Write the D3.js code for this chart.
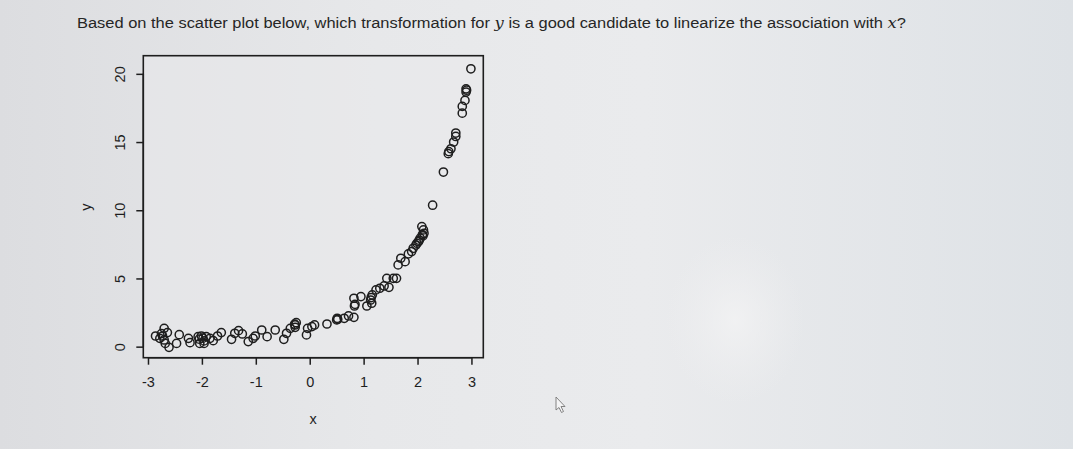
<!DOCTYPE html>
<html><head><meta charset="utf-8">
<script src="https://cdn.jsdelivr.net/npm/d3@7"></script>
<style>html,body{margin:0;padding:0;overflow:hidden;background:#e6e7e9}</style>
</head><body>
<script>
// ---- data ----
const xValues = [-2.86,-2.78,-2.70,-2.73,-2.64,-2.70,-2.68,-2.61,-2.47,-2.42,-2.25,-2.22,-2.07,-2.04,-2.01,-1.96,-1.92,-1.96,-1.85,-1.79,-1.71,-1.64,-1.45,-1.39,-1.32,-1.25,-1.14,-1.05,-1.01,-0.89,-0.79,-0.64,-0.48,-0.43,-0.36,-0.27,-0.25,-0.27,-0.06,-0.04,0.04,0.09,0.32,0.50,0.51,0.64,0.72,0.82,0.83,0.82,0.95,1.06,1.13,1.16,1.15,1.23,1.30,1.38,1.43,1.47,1.55,1.61,1.64,1.69,1.77,1.83,1.89,1.92,1.99,2.02,2.05,2.10,2.08,2.11,2.12,2.28,2.48,2.57,2.62,2.67,2.71,2.71,2.83,2.83,2.88,2.90,2.90,2.99,
  -2.75,-2.05,-1.98,-0.28,0.52,0.84,1.14,1.97,2.03,2.09,2.58,2.91];
const yValues = [0.78,0.61,1.34,0.78,1.03,0.49,0.24,-0.05,0.24,0.88,0.61,0.29,0.73,0.24,0.78,0.42,0.73,0.24,0.61,0.44,0.78,1.03,0.54,0.98,1.17,0.93,0.37,0.61,0.78,1.22,0.73,1.22,0.54,0.98,1.34,1.42,1.76,1.59,0.86,1.34,1.47,1.59,1.66,1.96,2.08,2.08,2.25,2.15,2.98,3.55,3.67,2.98,3.42,3.79,3.18,4.16,4.28,4.45,5.01,4.35,5.01,5.01,5.99,6.48,6.23,6.80,6.97,7.21,7.58,7.70,7.95,8.12,8.80,8.56,8.31,10.37,12.80,14.15,14.51,15.0,15.41,15.66,17.12,17.61,18.05,18.66,18.90,20.37,
  0.95,0.55,0.62,1.65,2.0,3.1,3.6,7.45,7.8,8.2,14.3,18.8];
const xTicks = [-3,-2,-1,0,1,2,3];
const yTicks = [0,5,10,15,20];
const titleParts = [
  {t:"Based on the scatter plot below, which transformation for ", m:false},
  {t:"y", m:true},
  {t:" is a good candidate to linearize the association with ", m:false},
  {t:"x", m:true},
  {t:"?", m:false}
];
const xLabel = "x", yLabel = "y";

// ---- drawing ----
const W = 1073, H = 449;
const svg = d3.select("body").append("svg").attr("width", W).attr("height", H);
const defs = svg.append("defs");
const g1 = defs.append("linearGradient").attr("id","bg").attr("x1","0").attr("x2","1").attr("y1","0").attr("y2","0");
g1.append("stop").attr("offset","0").attr("stop-color","#dcdde0");
g1.append("stop").attr("offset","0.35").attr("stop-color","#e7e8ea");
g1.append("stop").attr("offset","0.6").attr("stop-color","#eaebed");
g1.append("stop").attr("offset","1").attr("stop-color","#dee2e6");
svg.append("rect").attr("width",W).attr("height",H).attr("fill","url(#bg)");
const rg = defs.append("radialGradient").attr("id","glare");
rg.append("stop").attr("offset","0").attr("stop-color","#f3f3f4").attr("stop-opacity",0.8);
rg.append("stop").attr("offset","1").attr("stop-color","#efeff0").attr("stop-opacity",0);
svg.append("ellipse").attr("cx",735).attr("cy",320).attr("rx",70).attr("ry",85).attr("fill","url(#glare)");

// title
const title = svg.append("text").attr("x",77).attr("y",28)
  .attr("font-family","'Liberation Sans', Arial, sans-serif").attr("font-size",15.5)
  .attr("fill","#262626").attr("textLength",829).attr("lengthAdjust","spacingAndGlyphs");
titleParts.forEach(p => {
  const ts = title.append("tspan").text(p.t);
  if (p.m) ts.attr("font-family","'DejaVu Serif','Liberation Serif',serif").attr("font-style","italic");
});

// scales (R-style: 4% padding)
const xs = d3.scaleLinear().domain([-3.087, 3.22]).range([143.3, 483.3]);
const ys = d3.scaleLinear().domain([-0.81, 21.33]).range([357.7, 55.7]);

const ink = "#1e1e1e";
// box
svg.append("rect").attr("x",xs.range()[0]).attr("y",ys.range()[1])
  .attr("width",xs.range()[1]-xs.range()[0]).attr("height",ys.range()[0]-ys.range()[1])
  .attr("fill","#eaeaec").attr("fill-opacity",0.5).attr("stroke",ink).attr("stroke-width",1.6);

// x axis
const xa = svg.append("g").attr("transform",`translate(0,${ys.range()[0]})`)
  .call(d3.axisBottom(xs).tickValues(xTicks).tickSize(7).tickPadding(12).tickFormat(d => String(d)));
// y axis
const ya = svg.append("g").attr("transform",`translate(${xs.range()[0]},0)`)
  .call(d3.axisLeft(ys).tickValues(yTicks).tickSize(7).tickPadding(0).tickFormat(d => String(d)));
[xa, ya].forEach(a => {
  a.select(".domain").attr("stroke",ink).attr("stroke-width",1.5);
  a.selectAll(".tick line").attr("stroke",ink).attr("stroke-width",1.5);
  a.selectAll(".tick text").attr("fill","#1e1e1e").attr("font-size",14.5)
    .attr("font-family","'Liberation Sans', Arial, sans-serif");
});
// R style domain lines only between first and last ticks
xa.select(".domain").attr("d",`M${xs(xTicks[0])},0H${xs(xTicks[xTicks.length-1])}`);
ya.select(".domain").attr("d",`M0,${ys(yTicks[0])}V${ys(yTicks[yTicks.length-1])}`);
ya.selectAll(".tick text").attr("text-anchor","middle").attr("x",null).attr("dy",null)
  .attr("transform","translate(-23,0) rotate(-90)").attr("dy","0.35em");

// axis titles
svg.append("text").attr("x",313).attr("y",424).attr("text-anchor","middle")
  .attr("font-family","'Liberation Sans', Arial, sans-serif").attr("font-size",14.5).attr("fill","#1e1e1e").text(xLabel);
svg.append("text").attr("transform","translate(91,207) rotate(-90)").attr("text-anchor","middle")
  .attr("font-family","'Liberation Sans', Arial, sans-serif").attr("font-size",14.5).attr("fill","#1e1e1e").text(yLabel);

// points
svg.append("g").selectAll("circle").data(xValues.map((x,i)=>({x, y:yValues[i]})))
  .join("circle").attr("cx",d=>xs(d.x)).attr("cy",d=>ys(d.y)).attr("r",4.1)
  .attr("fill","none").attr("stroke",ink).attr("stroke-width",1.5);

// mouse pointer
svg.append("path").attr("d","M556,397 L556,410 L559,407.5 L561.5,412.5 L563.5,411.5 L561,406.5 L565,406.5 Z")
  .attr("fill","#f4f4f5").attr("stroke","#777").attr("stroke-width",0.9);
</script>
</body></html>
